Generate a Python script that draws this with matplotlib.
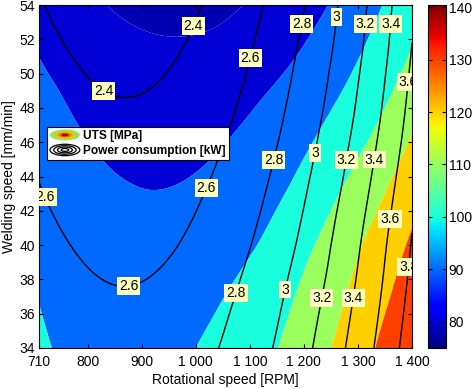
import numpy as np
import matplotlib
matplotlib.use("Agg")
import matplotlib.pyplot as plt
from matplotlib.colors import Normalize
from matplotlib.cm import ScalarMappable
from matplotlib.patches import Ellipse, Rectangle
from matplotlib.legend_handler import HandlerBase

plt.rcParams['font.family'] = ['Liberation Sans', 'DejaVu Sans']

# ---------------- data ----------------
rpm_range = [710, 1400]
ws_range = [34, 54]

# UTS [MPa] contour boundaries: (rotational speed, welding speed) points per level
uts_levels = [80, 90, 100, 110, 120, 130]
uts80_rpm = [835, 880, 965, 1040, 1086]
uts80_ws = [54, 52.9, 52.2, 52.6, 54]
uts90_rpm = [710, 747, 771, 834, 882, 913, 981, 1061, 1121, 1184, 1245]
uts90_ws = [50.8, 49.2, 47.6, 44.7, 43.7, 43.1, 43.8, 46.2, 48.6, 50.9, 54]
uts100_rpm = [710, 734, 1000, 1061, 1121, 1177, 1245, 1295, 1343]
uts100_ws = [36.6, 34, 34, 37.5, 40.2, 43.6, 47.6, 50.5, 54]
uts110_rpm = [1153, 1203, 1275, 1337, 1370, 1400]
uts110_ws = [34, 38.9, 43.6, 47.0, 49.3, 51.4]
uts120_rpm = [1250, 1306, 1361, 1400]
uts120_ws = [34, 40.1, 43.8, 46.6]
uts130_rpm = [1332, 1366, 1400]
uts130_ws = [34, 37.5, 40.9]

# Power consumption [kW] contour lines: points per level
pow_levels = [2.4, 2.6, 2.8, 3.0, 3.2, 3.4, 3.6, 3.8]
p24_rpm = [719, 771, 863, 926, 981, 1011]
p24_ws = [54, 51.1, 48.6, 49.3, 51.7, 54]
p26_rpm = [712, 728, 771, 863, 894, 968, 1011, 1037, 1061, 1110, 1125]
p26_ws = [43.6, 42.2, 39.9, 37.6, 37.8, 39.9, 42.8, 44.7, 46.8, 52.1, 54]
p28_rpm = [1044, 1061, 1103, 1134, 1158, 1184, 1203]
p28_ws = [34, 36.0, 39.9, 43.6, 46.6, 51.1, 54]
p30_rpm = [1142, 1166, 1208, 1227, 1245, 1260]
p30_ws = [34, 38.0, 43.7, 46.8, 50.1, 54]
p32_rpm = [1216, 1245, 1273, 1295, 1313, 1319]
p32_ws = [34, 38.4, 43.7, 47.6, 51.7, 54]
p34_rpm = [1277, 1300, 1324, 1343, 1356, 1361]
p34_ws = [34, 38.9, 43.7, 47.6, 51.1, 54]
p36_rpm = [1329, 1350, 1369, 1393, 1398]
p36_ws = [34, 39.9, 43.8, 50.1, 51.1]
p38_rpm = [1377, 1396, 1400]
p38_ws = [34, 38.9, 40.9]

# colour limits of the colorbar and its ticks
uts_clim = [75, 140.4]
cbar_ticks = [80, 90, 100, 110, 120, 130, 140]
x_ticks = [710, 800, 900, 1000, 1100, 1200, 1300, 1400]
y_ticks = [34, 36, 38, 40, 42, 44, 46, 48, 50, 52, 54]

# label positions (layout)
label_pos = [(1000, 52.7), (828, 48.9),
             (723, 42.8), (876, 37.5), (1020, 43.3), (1103, 50.9),
             (1195, 52.9), (1140, 45.0), (1075, 37.2),
             (1260, 53.3), (1217, 45.4), (1167, 37.4),
             (1313, 52.9), (1273, 45.0), (1232, 36.9),
             (1361, 52.9), (1328, 45.0), (1291, 36.9),
             (1395, 49.5), (1361, 41.5),
             (1393, 38.7)]


# ---------------- smooth surfaces through the read contours ----------------
# quadratic response surface + smoothed thin-plate correction of its residuals
def coded(n, w):
    return (np.asarray(n, float) - 1055.0) / 345.0, (np.asarray(w, float) - 44.0) / 10.0


def quad_terms(x, y):
    return np.stack([np.ones_like(x), x, y, x * x, y * y, x * y], axis=-1)


def tps_kernel(r):
    with np.errstate(divide='ignore', invalid='ignore'):
        k = r * r * np.log(r)
    return np.where(r > 0, k, 0.0)


def surface(groups, levels, gn, gw, smooth):
    xs, ys, vals = [], [], []
    for (n, w), lev in zip(groups, levels):
        x, y = coded(n, w)
        xs.append(x); ys.append(y); vals.append(np.full(len(x), lev, float))
    x = np.concatenate(xs); y = np.concatenate(ys); f = np.concatenate(vals)
    coef, *_ = np.linalg.lstsq(quad_terms(x, y), f, rcond=None)
    res = f - quad_terms(x, y) @ coef
    m = len(x)
    K = tps_kernel(np.hypot(x[:, None] - x[None, :], y[:, None] - y[None, :])) + smooth * np.eye(m)
    Pm = np.column_stack([np.ones(m), x, y])
    A = np.zeros((m + 3, m + 3))
    A[:m, :m] = K; A[:m, m:] = Pm; A[m:, :m] = Pm.T
    sol = np.linalg.solve(A, np.concatenate([res, np.zeros(3)]))
    wgt, a = sol[:m], sol[m:]
    gx, gy = coded(gn, gw)
    r = np.hypot(gx[..., None] - x, gy[..., None] - y)
    return quad_terms(gx, gy) @ coef + tps_kernel(r) @ wgt + a[0] + a[1] * gx + a[2] * gy


N = np.linspace(rpm_range[0], rpm_range[1], 300)
V = np.linspace(ws_range[0], ws_range[1], 300)
NN, VV = np.meshgrid(N, V)
U = surface([(uts80_rpm, uts80_ws), (uts90_rpm, uts90_ws), (uts100_rpm, uts100_ws),
             (uts110_rpm, uts110_ws), (uts120_rpm, uts120_ws), (uts130_rpm, uts130_ws)],
            uts_levels, NN, VV, smooth=0.05)
P = surface([(p24_rpm, p24_ws), (p26_rpm, p26_ws), (p28_rpm, p28_ws), (p30_rpm, p30_ws),
             (p32_rpm, p32_ws), (p34_rpm, p34_ws), (p36_rpm, p36_ws), (p38_rpm, p38_ws)],
            pow_levels, NN, VV, smooth=0.12)

# ---------------- figure ----------------
fig = plt.figure(figsize=(4.74, 3.89), dpi=100)
ax = fig.add_axes([0.0823, 0.1054, 0.7869, 0.8817])
cax = fig.add_axes([0.903, 0.1054, 0.038, 0.8817])

cmap = plt.get_cmap('jet')
norm = Normalize(vmin=uts_clim[0], vmax=uts_clim[1])
zmin, zmax = float(U.min()), float(U.max())
fill_levels = [min(zmin, uts_levels[0] - 1)] + uts_levels + [max(zmax, uts_levels[-1] + 1) + 0.01]
fill_colors = [cmap(norm(max(l, 77.9))) for l in [zmin] + uts_levels]
ax.contourf(NN, VV, U, levels=fill_levels, colors=fill_colors, antialiased=True)

cs = ax.contour(NN, VV, P, levels=pow_levels, colors='black', linewidths=1.0)
ax.clabel(cs, fmt=lambda v: f"{v:g}", fontsize=10, inline=False, manual=label_pos)
for t in cs.labelTexts:
    t.set_rotation(0)
    t.set_bbox(dict(facecolor='#ffffc0', edgecolor='none', pad=1.4))
    t.set_clip_on(True)
    t.set_clip_path(ax.patch)
    t.set_zorder(5)

ax.set_xlim(rpm_range)
ax.set_ylim(ws_range)
ax.set_xticks(x_ticks)
ax.set_xticklabels([f"{v:,}".replace(',', ' ') for v in x_ticks])
ax.set_yticks(y_ticks)
ax.tick_params(direction='in', top=True, right=True, length=3, labelsize=10, pad=3)
ax.tick_params(axis='x', pad=5)
ax.set_xlabel('Rotational speed [RPM]', fontsize=10, labelpad=3)
ax.set_ylabel('Welding speed [mm/min]', fontsize=10, labelpad=2)
for s in ax.spines.values():
    s.set_linewidth(0.8)

sm = ScalarMappable(norm=norm, cmap=cmap)
cb = fig.colorbar(sm, cax=cax, ticks=cbar_ticks)
cb.outline.set_linewidth(0.8)
cax.tick_params(direction='in', left=True, right=True, length=3, labelsize=10, pad=2)


# ---------------- legend ----------------
class FillHandler(HandlerBase):
    def create_artists(self, legend, orig_handle, xdescent, ydescent, width, height, fontsize, trans):
        cx, cy = width / 2 - xdescent, height / 2 - ydescent
        arts = []
        for frac, col in zip([1.0, 0.7, 0.45, 0.25],
                             ['#8ee65a', '#f5c400', '#f07000', '#b00000']):
            arts.append(Ellipse((cx, cy), width * frac, height * 1.15 * frac,
                                facecolor=col, edgecolor='none', transform=trans))
        return arts


class RingHandler(HandlerBase):
    def create_artists(self, legend, orig_handle, xdescent, ydescent, width, height, fontsize, trans):
        cx, cy = width / 2 - xdescent, height / 2 - ydescent
        arts = []
        for frac in [1.0, 0.75, 0.5, 0.25]:
            arts.append(Ellipse((cx, cy), width * frac, height * 1.2 * frac,
                                facecolor='none', edgecolor='black', linewidth=0.9,
                                transform=trans))
        return arts


h_uts = Rectangle((0, 0), 1, 1)
h_pow = Rectangle((0, 0), 1, 1)
leg = ax.legend([h_uts, h_pow], ['UTS [MPa]', 'Power consumption [kW]'],
                handler_map={h_uts: FillHandler(), h_pow: RingHandler()},
                loc='upper left', bbox_to_anchor=(0.0214, 0.644), borderaxespad=0,
                prop={'weight': 'bold', 'size': 8.6}, handlelength=2.5, handleheight=0.85,
                handletextpad=0.3, borderpad=0.25, labelspacing=0.25,
                fancybox=False, framealpha=1, edgecolor='black')
leg.get_frame().set_linewidth(0.8)
leg.set_zorder(10)

fig.savefig('out.png', dpi=100)
